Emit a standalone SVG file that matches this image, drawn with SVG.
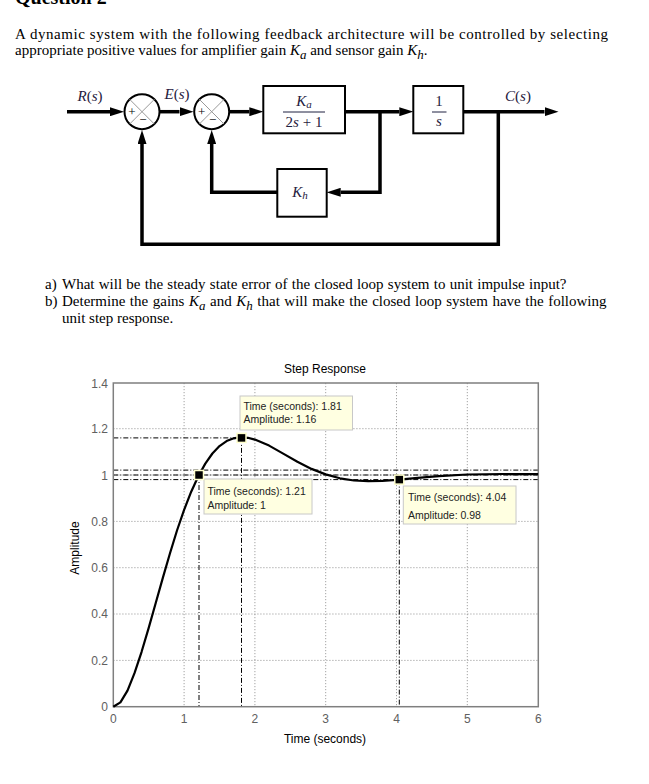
<svg xmlns="http://www.w3.org/2000/svg" width="649" height="784" viewBox="0 0 649 784">
<defs>
<marker id="ah" markerUnits="userSpaceOnUse" markerWidth="14" markerHeight="9" refX="0" refY="4.5" orient="auto">
<path d="M0,0 L14,4.5 L0,9 z" fill="#000"/>
</marker>
<style>
.ser{font-family:"Liberation Serif","Times New Roman",serif;fill:#000}
.it{font-style:italic}
.wire{fill:none;stroke:#000;stroke-width:3.5;stroke-linejoin:miter}
.blk{fill:#fff;stroke:#000;stroke-width:2}
.sum{fill:#fff;stroke:#000;stroke-width:2}
.xl{stroke:#999;stroke-width:1}
.sig{font-family:"Liberation Serif","Times New Roman",serif;font-size:15px;fill:#1f2040}
.gr{stroke:#8a8a8a;stroke-width:0.8;stroke-dasharray:1.2,1.8;fill:none}
.dd{stroke:#000;stroke-width:1;stroke-dasharray:5,2,1,2;fill:none}
.tk{font-family:"Liberation Sans",Arial,sans-serif;font-size:12px;fill:#606060}
.lab{font-family:"Liberation Sans",Arial,sans-serif;font-size:12px;fill:#000}
.tip{fill:#ffffe1;stroke:#c8c8c8;stroke-width:1}
.tt{font-family:"Liberation Sans",Arial,sans-serif;font-size:10.5px;fill:#222}
.mk{fill:#000;stroke:#ffffcc;stroke-width:1.5}
</style>
</defs>
<rect width="649" height="784" fill="#fff"/>

<g id="heading">
<text class="ser" x="15" y="4" font-size="20" font-weight="bold">Question 2</text>
<text class="ser" x="15" y="38.5" font-size="15" textLength="593" lengthAdjust="spacing">A dynamic system with the following feedback architecture will be controlled by selecting</text>
<text class="ser" x="15" y="55" font-size="15">appropriate positive values for amplifier gain <tspan class="it">K</tspan><tspan class="it" font-size="13" dy="4">a</tspan><tspan dy="-4"> and sensor gain </tspan><tspan class="it">K</tspan><tspan class="it" font-size="13" dy="4">h</tspan><tspan dy="-4">.</tspan></text>
</g>

<g id="connectors">
<path class="wire" d="M67,111.7 H110" marker-end="url(#ah)"/>
<path class="wire" d="M160,111.7 H179.5" marker-end="url(#ah)"/>
<path class="wire" d="M230,111.7 H249.3" marker-end="url(#ah)"/>
<path class="wire" d="M345,111.7 H399.3" marker-end="url(#ah)"/>
<path class="wire" d="M463.3,111.7 H544.5" marker-end="url(#ah)"/>
<path class="wire" d="M380,111.7 V192.3 H340.7" marker-end="url(#ah)"/>
<path class="wire" d="M277.3,192.3 H211.7 V144" marker-end="url(#ah)"/>
<path class="wire" d="M498.3,111.7 V244.3 H142 V144" marker-end="url(#ah)"/>
</g>

<g id="label-R"><text class="sig" x="90" y="101" text-anchor="middle"><tspan class="it">R</tspan>(<tspan class="it">s</tspan>)</text></g>
<g id="label-E"><text class="sig" x="177" y="99" text-anchor="middle"><tspan class="it">E</tspan>(<tspan class="it">s</tspan>)</text></g>
<g id="label-C"><text class="sig" x="518" y="101" text-anchor="middle"><tspan class="it">C</tspan>(<tspan class="it">s</tspan>)</text></g>

<g id="sum1">
<circle class="sum" cx="142" cy="111.7" r="17.5"/>
<line class="xl" x1="129.6" y1="99.3" x2="154.4" y2="124.1"/>
<line class="xl" x1="154.4" y1="99.3" x2="129.6" y2="124.1"/>
<text class="ser" x="132" y="116" font-size="13" text-anchor="middle">+</text>
<text class="ser" x="143" y="124" font-size="13" text-anchor="middle">−</text>
</g>
<g id="sum2">
<circle class="sum" cx="211.7" cy="111.7" r="17.5"/>
<line class="xl" x1="199.3" y1="99.3" x2="224.1" y2="124.1"/>
<line class="xl" x1="224.1" y1="99.3" x2="199.3" y2="124.1"/>
<text class="ser" x="201.7" y="116" font-size="13" text-anchor="middle">+</text>
<text class="ser" x="212.7" y="124" font-size="13" text-anchor="middle">−</text>
</g>

<g id="block-amp">
<rect class="blk" x="263.3" y="86" width="81.7" height="47.3"/>
<text class="sig" x="304" y="106" text-anchor="middle"><tspan class="it">K</tspan><tspan class="it" font-size="11" dy="2">a</tspan></text>
<line x1="283" y1="112" x2="325" y2="112" stroke="#1f2040" stroke-width="1"/>
<text class="sig" x="304" y="127" text-anchor="middle">2<tspan class="it">s</tspan> + 1</text>
</g>

<g id="block-int">
<rect class="blk" x="413.3" y="86" width="50" height="47.3"/>
<text class="sig" x="439" y="106" text-anchor="middle" font-size="13">1</text>
<line x1="432" y1="112" x2="446.5" y2="112" stroke="#1f2040" stroke-width="1"/>
<text class="sig it" x="439" y="126" text-anchor="middle" font-size="13">s</text>
</g>

<g id="block-kh">
<rect class="blk" x="277.3" y="169" width="49.4" height="47.7"/>
<text class="sig" x="300" y="197" text-anchor="middle"><tspan class="it">K</tspan><tspan class="it" font-size="11" dy="2">h</tspan></text>
</g>

<g id="questions">
<text class="ser" x="45" y="289" font-size="15">a)</text>
<text class="ser" x="62" y="289" font-size="15" word-spacing="0.5">What will be the steady state error of the closed loop system to unit impulse input?</text>
<text class="ser" x="45" y="306" font-size="15">b)</text>
<text class="ser" x="62" y="306" font-size="15" word-spacing="0.8">Determine the gains <tspan class="it">K</tspan><tspan class="it" font-size="13" dy="4">a</tspan><tspan dy="-4"> and </tspan><tspan class="it">K</tspan><tspan class="it" font-size="13" dy="4">h</tspan><tspan dy="-4"> that will make the closed loop system have the following</tspan></text>
<text class="ser" x="62" y="323" font-size="15">unit step response.</text>
</g>

<g id="plot">
<text class="lab" x="325" y="373.3" text-anchor="middle">Step Response</text>
<g class="gr">
<line x1="184.1" y1="383" x2="184.1" y2="706.7"/>
<line x1="254.9" y1="383" x2="254.9" y2="706.7"/>
<line x1="325.7" y1="383" x2="325.7" y2="706.7"/>
<line x1="396.5" y1="383" x2="396.5" y2="706.7"/>
<line x1="467.3" y1="383" x2="467.3" y2="706.7"/>
<line x1="113.3" y1="660.4" x2="538.3" y2="660.4"/>
<line x1="113.3" y1="614" x2="538.3" y2="614"/>
<line x1="113.3" y1="567.7" x2="538.3" y2="567.7"/>
<line x1="113.3" y1="521.4" x2="538.3" y2="521.4"/>
<line x1="113.3" y1="475" x2="538.3" y2="475"/>
<line x1="113.3" y1="428.7" x2="538.3" y2="428.7"/>
</g>
<g class="dd">
<line x1="113.3" y1="470.1" x2="538.3" y2="470.1"/>
<line x1="113.3" y1="475" x2="538.3" y2="475"/>
<line x1="113.3" y1="479.6" x2="538.3" y2="479.6"/>
<line x1="113.3" y1="437.9" x2="241.5" y2="437.9"/>
<line x1="241.5" y1="437.9" x2="241.5" y2="706.7"/>
<line x1="199" y1="475" x2="199" y2="706.7"/>
<line x1="399.3" y1="479.6" x2="399.3" y2="706.7"/>
</g>
<rect x="113.3" y="383" width="425" height="323.7" fill="none" stroke="#7f7f7f" stroke-width="1.5"/>
<polyline fill="none" stroke="#000" stroke-width="2.2" stroke-linejoin="round" points="113.3,706.7 120.4,702.4 127.5,690.6 134.5,673.2 141.6,651.8 148.7,627.9 155.8,602.7 162.9,577.6 170,553.2 177,530.5 184.1,509.9 191.2,491.7 198.3,476.2 205.3,463.6 212.4,453.5 219.5,446.1 226.6,441.1 233.7,438.3 240.7,437.2 247.8,437.8 254.9,439.6 269.1,445.6 283.2,453.6 297.4,461.7 311.5,468.9 325.7,474.4 339.9,478.3 354,480.5 368.2,481.2 382.3,480.9 396.5,479.9 417.7,477.9 439,476.1 467.3,474.5 502.7,474 538.1,474.2"/>
<g class="tk" text-anchor="end">
<text x="108" y="387.5">1.4</text>
<text x="108" y="433">1.2</text>
<text x="108" y="479.5">1</text>
<text x="108" y="525.8">0.8</text>
<text x="108" y="572">0.6</text>
<text x="108" y="618.4">0.4</text>
<text x="108" y="664.8">0.2</text>
<text x="108" y="711">0</text>
</g>
<g class="tk" text-anchor="middle">
<text x="113.3" y="723">0</text>
<text x="184.1" y="723">1</text>
<text x="254.9" y="723">2</text>
<text x="325.7" y="723">3</text>
<text x="396.5" y="723">4</text>
<text x="467.3" y="723">5</text>
<text x="538.3" y="723">6</text>
</g>
<text class="lab" x="325" y="743" text-anchor="middle">Time (seconds)</text>
<text class="lab" x="0" y="0" text-anchor="middle" transform="translate(78.5,548) rotate(-90)">Amplitude</text>

<rect class="tip" x="240" y="396" width="112.5" height="34"/>
<text class="tt" x="243.5" y="409.5">Time (seconds): 1.81</text>
<text class="tt" x="243.5" y="423">Amplitude: 1.16</text>
<rect class="tip" x="204" y="479" width="108" height="35"/>
<text class="tt" x="207.5" y="495">Time (seconds): 1.21</text>
<text class="tt" x="207.5" y="509">Amplitude: 1</text>
<rect class="tip" x="403.3" y="486" width="112.7" height="38"/>
<text class="tt" x="408" y="501">Time (seconds): 4.04</text>
<text class="tt" x="408" y="519">Amplitude: 0.98</text>

<rect class="mk" x="237" y="433.4" width="9" height="9"/>
<rect class="mk" x="194.5" y="470.5" width="9" height="9"/>
<rect class="mk" x="394.8" y="475.1" width="9" height="9"/>
</g>
</svg>
